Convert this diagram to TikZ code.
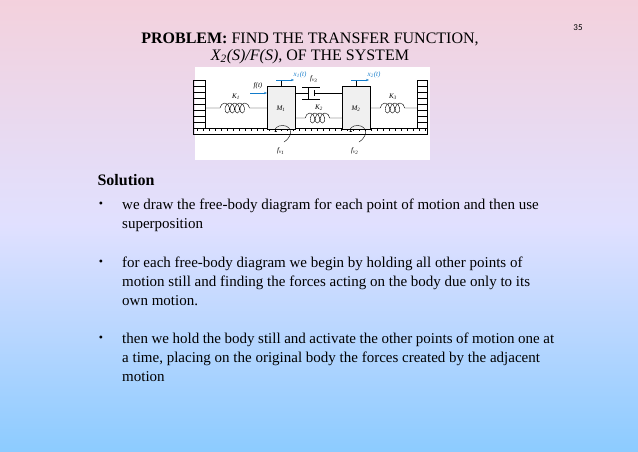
\documentclass[tikz,border=0pt]{standalone}
\usepackage{fontspec}
\setmainfont{Liberation Serif}
\newfontfamily\carlitofnt{Carlito}
\usetikzlibrary{decorations.pathmorphing,arrows.meta}
\begin{document}
\begin{tikzpicture}[x=1pt,y=-1pt,
  body/.style={font=\fontsize{15}{19}\selectfont,align=flush left,text width=432,inner sep=0},
  spr/.style={decorate,decoration={coil,aspect=0.7,segment length=5,amplitude=5,pre length=15,post length=15}},
  mass/.style={draw,fill=gray!12,line width=0.4},
  lab/.style={font=\fontsize{7}{7}\selectfont\itshape},
  blu/.style={-{Stealth[length=3]},draw=cyan!60!blue,line width=0.7},
  bul/.style={font=\fontsize{12}{12}\selectfont}]
\useasboundingbox (0,0) rectangle (638,451);
\shade[top color=purple!18!white,bottom color=blue!45!cyan!45!white,middle color=white!88!blue] (0,0) rectangle (638,451);
\node[font=\carlitofnt\fontsize{9}{9}\selectfont] (pg) at (578,28) {35};
\node[font=\fontsize{16}{17}\selectfont,align=center] (title) at (310,48) {\textbf{PROBLEM:} FIND THE TRANSFER FUNCTION,\\ \textit{X\textsubscript{2}(S)/F(S),} OF THE SYSTEM};
% diagram
\fill[white] (195,67) rectangle (430,160);
\begin{scope}[line width=0.4]
\draw (193,80) rectangle (205,128);
\draw (417,80) rectangle (427,128);
\draw (193,128) rectangle (427,134);
\foreach \x in {197,203,...,425}{\draw (\x,128)--(\x,131);}
\foreach \y in {86,92,...,124}{\draw (193,\y)--(205,\y); \draw (417,\y)--(427,\y);}
\node[mass,minimum width=28,minimum height=43,inner sep=0] (m1) at (281,107.5) {};
\node[mass,minimum width=28,minimum height=43,inner sep=0] (m2) at (356,107.5) {};
\node[lab] at (281,109) {M\textsubscript{1}};
\node[lab] at (356,109) {M\textsubscript{2}};
\coordinate (w1) at (205,108); \coordinate (w2) at (417,108);
\draw[spr] (w1) -- (w1-|m1.west);
\draw[spr,decoration={pre length=10,post length=10}] (w2-|m2.east) -- (w2);
\draw[spr,decoration={pre length=10,post length=10}] (m1.east|-0,118) -- (m2.west|-0,118);
\node[lab] at (236,97) {K\textsubscript{1}};
\node[lab] at (393,97) {K\textsubscript{3}};
\node[lab] at (319,108) {K\textsubscript{2}};
% damper
\draw (m1.east|-0,93) -- (308,93);
\draw (308,87)--(308,99) (302,87)--(320,87) (302,99)--(320,99);
\draw (314,90)--(314,96) (314,93)--(m2.west|-0,93);
\node[lab] at (314,79) {f\textsubscript{v\textsubscript{3}}};
% arrows
\draw (281,80)--(281,86); \draw[blu] (276,80)--(294,80);
\node[lab,text=cyan!60!blue] at (300,75) {x\textsubscript{1}(t)};
\draw (356,80)--(356,86); \draw[blu] (351,80)--(369,80);
\node[lab,text=cyan!60!blue] at (374,75) {x\textsubscript{2}(t)};
\draw[blu] (250,93)--(267,93);
\node[lab] at (258,86) {f(t)};
% friction
\draw[-{Stealth[length=2.5]}] (284,142) .. controls (296,134) and (290,123) .. (279,126) .. controls (274,128) and (275,131) .. (277,132);
\draw[-{Stealth[length=2.5]}] (359,142) .. controls (371,134) and (365,123) .. (354,126) .. controls (349,128) and (350,131) .. (352,132);
\node[lab] at (281,151) {f\textsubscript{v\textsubscript{1}}};
\node[lab] at (355,151) {f\textsubscript{v\textsubscript{2}}};
\end{scope}
\node[anchor=west,font=\fontsize{16}{16}\selectfont\bfseries] (sol) at (94,180) {Solution};
\node[bul] (b1) at (101,205) {•};
\node[body,anchor=north west] (t1) at (122,199) {we draw the free-body diagram for each point of motion and then use superposition};
\node[bul] (b2) at (101,263) {•};
\node[body,anchor=north west] (t2) at (122,257) {for each free-body diagram we begin by holding all other points of motion still and finding the forces acting on the body due only to its own motion.};
\node[bul] (b3) at (101,339) {•};
\node[body,anchor=north west] (t3) at (122,333) {then we hold the body still and activate the other points of motion one at a time, placing on the original body the forces created by the adjacent motion};
\end{tikzpicture}
\end{document}
